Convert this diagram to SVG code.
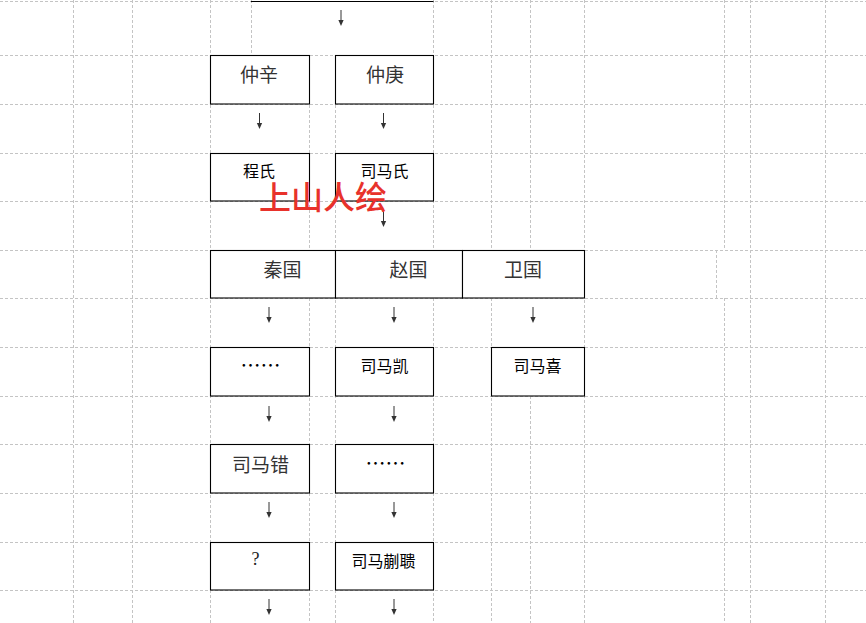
<svg xmlns="http://www.w3.org/2000/svg" xmlns:xlink="http://www.w3.org/1999/xlink" width="866" height="623" viewBox="0 0 866 623">
<style>
.g{stroke:#c4c4c4;stroke-width:1;stroke-dasharray:3,2;fill:none}
.b{fill:#fff;stroke:#000;stroke-width:1.1}
.t1{font-family:"Noto Sans CJK SC","Noto Sans CJK TC",sans-serif;font-size:19px;fill:#333;text-anchor:middle;dominant-baseline:central}
.t2{font-family:"Noto Sans CJK SC","Noto Sans CJK TC",sans-serif;font-size:16px;fill:#000;text-anchor:middle;dominant-baseline:central}
.dots{font-family:"Noto Sans CJK SC",sans-serif;font-size:20px;fill:#000;text-anchor:middle;dominant-baseline:central}
.q{font-family:"Liberation Serif",serif;font-size:18px;fill:#222;text-anchor:middle;dominant-baseline:central}
.wm{font-family:"Noto Sans CJK SC","Noto Sans CJK TC",sans-serif;font-size:32px;font-weight:500;fill:#e8322b;text-anchor:middle;dominant-baseline:central}
</style>
<defs>
<g id="arr"><path d="M0,0V11" stroke="#333" stroke-width="1"/><polygon points="-2.6,10 2.6,10 0,16" fill="#333"/></g>
</defs>
<rect width="866" height="623" fill="#fff"/>
<g id="grid">
<path class="g" d="M0,1.5H866M0,55.5H866M0,104.5H866M0,153.5H866M0,201.5H866M0,250.5H866M0,298.5H866M0,347.5H866M0,396.5H866M0,444.5H866M0,493.5H866M0,542.5H866M0,590.5H866"/>
<path class="g" d="M73.5,0V623M132.5,0V623M210.5,0V623M251.5,0V55M309.5,55V250M309.5,298V623M335.5,55V623M433.5,0V250M433.5,298V623M491.5,0V250M491.5,298V623M530.5,0V250M530.5,396V623M584.5,0V623M724.5,0V250M724.5,298V623M716.5,250V298M750.5,0V623M825.5,0V623"/>
</g>
<g id="top"><path d="M251,1.5H433.5" stroke="#000" stroke-width="1.1"/></g>
<g id="n-zhongxin"><rect class="b" x="210.5" y="55.5" width="99" height="48.5"/><text class="t1" x="259" y="73.5">仲辛</text></g>
<g id="n-zhonggeng"><rect class="b" x="335.5" y="55.5" width="98" height="48.5"/><text class="t1" x="385" y="73.5">仲庚</text></g>
<g id="n-chengshi"><rect class="b" x="210.5" y="153.5" width="99" height="47.5"/><text class="t2" x="259" y="169.5">程氏</text></g>
<g id="n-simashi"><rect class="b" x="335.5" y="153.5" width="98" height="47.5"/><text class="t2" x="384.5" y="169.5">司马氏</text></g>
<g id="n-qin"><rect class="b" x="210.5" y="250.5" width="125" height="47.5"/><text class="t1" x="282.5" y="268">秦国</text></g>
<g id="n-zhao"><rect class="b" x="335.5" y="250.5" width="127" height="47.5"/><text class="t1" x="408.5" y="268">赵国</text></g>
<g id="n-wei"><rect class="b" x="462.5" y="250.5" width="122" height="47.5"/><text class="t1" x="523" y="268">卫国</text></g>
<g id="n-dots1"><rect class="b" x="210.5" y="347.5" width="99" height="48.5"/><text class="dots" x="260.5" y="364">……</text></g>
<g id="n-simakai"><rect class="b" x="335.5" y="347.5" width="98" height="48.5"/><text class="t2" x="384.5" y="365">司马凯</text></g>
<g id="n-simaxi"><rect class="b" x="491.5" y="347.5" width="93" height="48.5"/><text class="t2" x="537.5" y="365">司马喜</text></g>
<g id="n-simacuo"><rect class="b" x="210.5" y="444.5" width="99" height="48.5"/><text class="t1" x="260.5" y="463">司马错</text></g>
<g id="n-dots2"><rect class="b" x="335.5" y="444.5" width="98" height="48.5"/><text class="dots" x="385.5" y="462">……</text></g>
<g id="n-q"><rect class="b" x="210.5" y="542.5" width="99" height="47.5"/><text class="q" x="255.5" y="558.5">?</text></g>
<g id="n-simakuaikui"><rect class="b" x="335.5" y="542.5" width="98" height="47.5"/><text class="t2" x="383.5" y="559.5">司马蒯聩</text></g>
<g id="connectors">
<use xlink:href="#arr" x="341" y="10"/>
<use xlink:href="#arr" x="259.5" y="113"/>
<use xlink:href="#arr" x="383.5" y="113"/>
<use xlink:href="#arr" x="383.5" y="211"/>
<use xlink:href="#arr" x="269" y="307"/>
<use xlink:href="#arr" x="394" y="307"/>
<use xlink:href="#arr" x="533" y="307"/>
<use xlink:href="#arr" x="269" y="406"/>
<use xlink:href="#arr" x="394" y="406"/>
<use xlink:href="#arr" x="269" y="502"/>
<use xlink:href="#arr" x="394" y="502"/>
<use xlink:href="#arr" x="269" y="599"/>
<use xlink:href="#arr" x="394" y="599"/>
</g>
<text class="wm" x="323" y="195">上山人绘</text>
</svg>
